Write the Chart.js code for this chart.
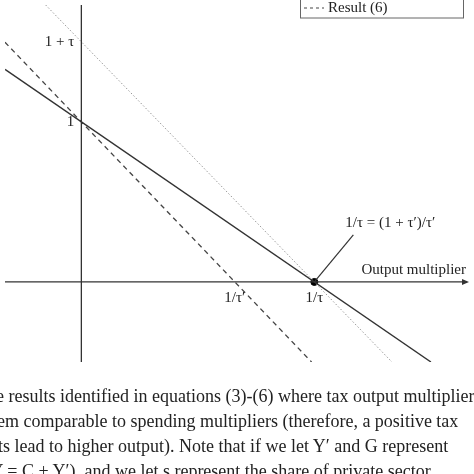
<!DOCTYPE html>
<html><head><meta charset="utf-8">
<script src="https://cdn.jsdelivr.net/npm/chart.js@4/dist/chart.umd.min.js"></script>
<style>
html,body{margin:0;padding:0;background:#fff;overflow:hidden}
#wrap{position:relative;width:474px;height:474px;overflow:hidden}
canvas{position:absolute;left:0;top:0}
.ln{position:absolute;white-space:nowrap;font-family:"Liberation Serif","DejaVu Serif",serif;font-size:18px;color:#222;line-height:1}
</style></head><body>
<div id="wrap"><canvas id="c" width="474" height="474"></canvas></div>
<script>
// Model units: y-axis intercept 1, 1/tau at 1.4875, 1/tau' at 0.98
const xRange = [-0.4875, 2.475];
const yRange = [-0.5, 1.73];
const solidLine = [{x:-0.4875,y:1.328},{x:2.232,y:-0.5}];
const dashedLine = [{x:-0.4875,y:1.497},{x:1.47,y:-0.5}];
const dottedLine = [{x:-0.228,y:1.73},{x:1.983,y:-0.5}];
const keyPoint = [{x:1.4875,y:0}];
const yTicks = [{v:1.5,t:'1 + τ'},{v:1,t:'1'}];
const xTicks = [{v:0.98,t:'1/τ′'},{v:1.4875,t:'1/τ'}];
const legendLabel = 'Result (6)';
const annotation = '1/τ = (1 + τ′)/τ′';
const axisLabel = 'Output multiplier';
const bodyLines = [
 ['th','e results identified in equations (3)-(6) where tax output multipliers',-4],
 ['th','em comparable to spending multipliers (therefore, a positive tax',-3],
 ['cu','ts lead to higher output).  Note that if we let Y′ and G represent',-2],
 ['Y ','= C + Y′), and we let s represent the share of private sector',8]
];
const lineTops = [387,412,437,462];

const F = '"Liberation Serif","DejaVu Serif",serif';
const deco = {
 id:'deco',
 afterDatasetsDraw(ch){
  const c=ch.ctx, xs=ch.scales.x, ys=ch.scales.y;
  const x0=xs.getPixelForValue(0), y0=ys.getPixelForValue(0);
  c.save();
  c.strokeStyle='#333'; c.lineWidth=1.3;
  c.beginPath(); c.moveTo(x0,ys.top); c.lineTo(x0,ys.bottom); c.stroke();
  c.beginPath(); c.moveTo(xs.left,y0); c.lineTo(xs.right-2,y0); c.stroke();
  c.fillStyle='#333';
  c.beginPath(); c.moveTo(xs.right,y0); c.lineTo(xs.right-7,y0-3); c.lineTo(xs.right-7,y0+3); c.closePath(); c.fill();
  c.fillStyle='#222'; c.font='15px '+F;
  c.textAlign='right'; c.textBaseline='middle';
  yTicks.forEach(t=>c.fillText(t.t,x0-7,ys.getPixelForValue(t.v)));
  c.textAlign='center'; c.textBaseline='top';
  xTicks.forEach(t=>c.fillText(t.t,xs.getPixelForValue(t.v),y0+9));
  c.textAlign='right'; c.textBaseline='bottom';
  c.fillText(axisLabel,xs.right-3,y0-4);
  const px=xs.getPixelForValue(keyPoint[0].x);
  c.strokeStyle='#333'; c.lineWidth=1.2;
  c.beginPath(); c.moveTo(px,y0); c.lineTo(px+39,y0-47); c.stroke();
  c.textAlign='left'; c.textBaseline='middle';
  c.fillText(annotation,px+31,y0-59);
  c.strokeStyle='#666'; c.lineWidth=1;
  c.strokeRect(300.5,-10,163,28);
  c.strokeStyle='#444'; c.setLineDash([3,3]);
  c.beginPath(); c.moveTo(304,8); c.lineTo(324,8); c.stroke();
  c.setLineDash([]);
  c.fillStyle='#222'; c.textBaseline='middle';
  c.fillText(legendLabel,328,8);
  c.restore();
 }
};
new Chart(document.getElementById('c'),{
 type:'scatter',
 data:{datasets:[
  {data:solidLine,showLine:true,borderColor:'#333',borderWidth:1.4,pointRadius:0},
  {data:dashedLine,showLine:true,borderColor:'#444',borderWidth:1.3,borderDash:[5,4],pointRadius:0},
  {data:dottedLine,showLine:true,borderColor:'#999',borderWidth:1,borderDash:[1.5,2],pointRadius:0},
  {data:keyPoint,pointRadius:3.5,backgroundColor:'#000',borderColor:'#000'}
 ]},
 options:{responsive:false,animation:false,
  layout:{padding:{left:-5,right:-5,top:-5,bottom:112}},
  plugins:{legend:{display:false},tooltip:{enabled:false}},
  scales:{
   x:{type:'linear',min:xRange[0],max:xRange[1],display:false},
   y:{type:'linear',min:yRange[0],max:yRange[1],display:false}
  }},
 plugins:[deco]
});
const wrap=document.getElementById('wrap');
const mc=document.createElement('canvas').getContext('2d');
mc.font='18px '+F;
bodyLines.forEach((l,i)=>{
 const d=document.createElement('div'); d.className='ln';
 d.textContent=l[0]+l[1];
 d.style.top=lineTops[i]+'px';
 d.style.left=(l[2]-mc.measureText(l[0]).width)+'px';
 wrap.appendChild(d);
});
</script></body></html>
